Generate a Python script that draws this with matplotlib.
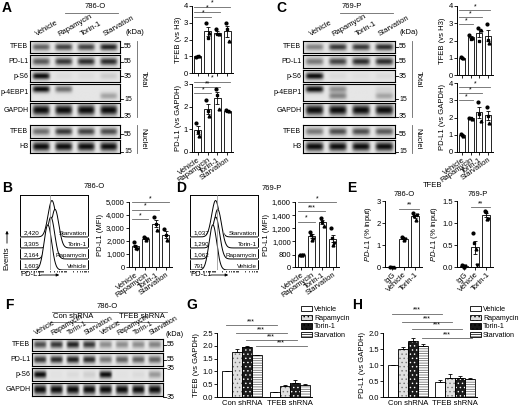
import numpy as np
import matplotlib
matplotlib.use("Agg")
import matplotlib.pyplot as plt
from matplotlib.patches import Patch
from matplotlib.ticker import FuncFormatter

plt.rcParams["font.family"] = ["Liberation Sans", "DejaVu Sans"]
plt.rcParams["font.size"] = 5.5
plt.rcParams["mathtext.fontset"] = "custom"
plt.rcParams["mathtext.it"] = "Liberation Sans:italic"
plt.rcParams["mathtext.rm"] = "Liberation Sans"
plt.rcParams["hatch.linewidth"] = 0.5

W, H = 520, 408

# ---------------- data ----------------
treatments = ["Vehicle", "Rapamycin", "Torin-1", "Starvation"]

# western blots (relative band intensity per lane)
ac_rows = ["TFEB", "PD-L1", "p-S6", "p-4EBP1", "GAPDH", "TFEB", "H3"]
ac_kda = ["55", "55", "35", "15", "35", "55", "15"]
a_bands = [[0.6, 0.75, 0.75, 0.9], [0.65, 0.8, 0.85, 0.85], [1.0, 0.04, 0.04, 0.12],
           [1.0, 0.55, 0.0, 0.0], [1, 1, 1, 1], [0.55, 0.8, 0.75, 0.7], [1, 1, 1, 1]]
a_4ebp1_low = [0.0, 0.0, 0.0, 0.3]
c_bands = [[0.45, 0.8, 0.8, 0.85], [0.5, 0.75, 0.85, 0.85], [1.0, 0.05, 0.03, 0.05],
           [1.0, 0.4, 0.0, 0.08], [1, 1, 1, 1], [0.5, 0.7, 0.7, 0.65], [1, 1, 1, 1]]
c_4ebp1_low = [0.0, 0.45, 0.0, 0.3]

f_lanes = treatments * 2
f_rows = ["TFEB", "PD-L1", "p-S6", "GAPDH"]
f_kda = ["55", "55", "35", "35"]
f_bands = [[0.7, 0.8, 0.9, 0.8, 0.4, 0.4, 0.4, 0.45],
           [0.8, 0.85, 0.9, 0.85, 0.5, 0.6, 0.6, 0.6],
           [1.0, 0.02, 0.05, 0.1, 1.0, 0.02, 0.05, 0.35],
           [1, 1, 1, 1, 1, 1, 1, 1]]

# quantification, individual replicates
a_tfeb = [[0.95, 1.0, 1.04], [3.0, 2.1, 2.4], [2.6, 2.3, 2.3], [3.0, 2.6, 1.9]]
a_pdl1 = [[1.3, 0.9, 0.72], [2.3, 1.8, 1.6], [2.8, 2.5, 1.9], [1.85, 1.8, 1.8]]
c_tfeb = [[1.02, 1.0, 0.98], [2.3, 2.1, 2.15], [2.75, 1.95, 2.6], [2.95, 2.05, 1.85]]
c_pdl1 = [[1.05, 1.0, 0.95], [1.95, 2.0, 1.9], [2.9, 2.2, 1.8], [2.6, 2.1, 1.7]]
a_tfeb_sig = [(0, 1, 3.35, "*"), (0, 2, 3.65, "*"), (0, 3, 3.95, "*")]
a_pdl1_sig = [(0, 1, 2.6, "*"), (0, 2, 2.85, "**"), (0, 3, 3.1, "*")]
c_tfeb_sig = [(0, 1, 2.95, "*"), (0, 2, 3.35, "*"), (0, 3, 3.75, "*")]
c_pdl1_sig = [(0, 1, 3.0, "*"), (0, 2, 3.4, "*"), (0, 3, 3.75, "*")]

# flow cytometry MFI
b_mfi = [1603, 2164, 3305, 2420]
d_mfi = [791, 1062, 1290, 1037]
peak_heights = [4.1, 3.8, 3.5, 3.3]
b_pts = [[1900, 1650, 1500, 1400], [2300, 2200, 2050, 2150], [3850, 3300, 2850], [2900, 2500, 2100]]
d_pts = [[800, 780, 790, 770], [1150, 1100, 1020, 1040], [1350, 1300, 1230], [1200, 1050, 950, 980]]
b_sig = [(0, 1, 3700, "*"), (0, 2, 4400, "*"), (0, 3, 5000, "*")]
d_sig = [(0, 1, 1300, "*"), (0, 2, 1460, "***"), (0, 3, 1600, "*")]

# ChIP
chip_groups = ["IgG", "Vehicle", "Torin-1"]
e786 = [[0.0, 0.0, 0.0], [1.35, 1.3, 1.25, 1.28], [2.45, 2.3, 2.15, 2.35]]
e769 = [[0.05, 0.02, 0.0, 0.03], [0.78, 0.55, 0.4, 0.05], [1.28, 1.25, 1.1, 1.08]]
e786_sig = [(1, 2, 2.65, "**")]
e769_sig = [(1, 2, 1.36, "**")]

# shRNA quantification
sh_groups = ["Con shRNA", "TFEB shRNA"]
g_con = [1.0, 1.75, 1.97, 1.63]
g_con_err = [0.03, 0.12, 0.03, 0.03]
g_kd = [0.18, 0.42, 0.55, 0.47]
g_kd_err = [0.02, 0.05, 0.1, 0.04]
g_sig = [2.81, 2.5, 2.23, 1.99]
h_con = [1.0, 1.5, 1.75, 1.6]
h_con_err = [0.01, 0.05, 0.1, 0.06]
h_kd = [0.47, 0.58, 0.6, 0.55]
h_kd_err = [0.05, 0.13, 0.07, 0.03]
h_sig = [2.6, 2.34, 2.13, 1.84]

# ---------------- helpers ----------------
fig = plt.figure(figsize=(W / 100, H / 100), dpi=100)


def px_axes(x0, y0, x1, y1):
    return fig.add_axes([x0 / W, 1 - y1 / H, (x1 - x0) / W, (y1 - y0) / H])


def px_text(x, y, s, **kw):
    fig.text(x / W, 1 - y / H, s, **kw)


def px_line(xs, ys, **kw):
    fig.add_artist(plt.Line2D([x / W for x in xs], [1 - y / H for y in ys], **kw))


def band_image(layers, n):
    nx, ny = n * 24, 30
    u = (np.arange(nx) + 0.5) / nx * n
    v = (np.arange(ny) + 0.5) / ny
    lane = np.floor(u).astype(int)
    du = u - lane - 0.5
    img = np.zeros((ny, nx))
    for centre, width, levels in layers:
        col = np.asarray(levels, float)[lane] * np.exp(-(np.abs(du) / 0.38) ** 6)
        row = np.exp(-0.5 * ((v - centre) / width) ** 2)
        img += row[:, None] * col[None, :]
    return 0.9 - 0.85 * np.clip(img, 0, 1)


def draw_blot(x0, x1, rows_y, names, layer_list, kda, kda_frac, n):
    for (y0, y1), name, layers, mk, fr in zip(rows_y, names, layer_list, kda, kda_frac):
        ax = px_axes(x0, y0, x1, y1)
        ax.imshow(band_image(layers, n), cmap="gray", vmin=0, vmax=1,
                  extent=(0, n, 1, 0), aspect="auto", interpolation="bilinear")
        ax.set_xticks([])
        ax.set_yticks([])
        for s in ax.spines.values():
            s.set_linewidth(0.8)
        px_text(x0 - 1.5, (y0 + y1) / 2, name, ha="right", va="center", fontsize=5.0)
        ym = y0 + fr * (y1 - y0)
        px_line([x1, x1 + 3], [ym, ym], color="k", lw=0.6)
        px_text(x1 + 4, ym, mk, ha="left", va="center", fontsize=5)


def lane_labels(x0, x1, y, labels, rot=30, size=5.5):
    n = len(labels)
    step = (x1 - x0) / n
    for i, lab in enumerate(labels):
        px_text(x0 + step * (i + 0.5) - 3, y, lab, rotation=rot, ha="left", va="bottom",
                rotation_mode="anchor", fontsize=size)


def style(ax):
    for s in ["top", "right"]:
        ax.spines[s].set_visible(False)
    for s in ["left", "bottom"]:
        ax.spines[s].set_linewidth(0.7)
    ax.tick_params(length=2, width=0.6, pad=1, labelsize=5.5)


marks = ["o", "s", "^", "v", "D"]


def bar_panel(ax, pts, ylim, yticks, ylabel, sig, xlabels=None, rot=35):
    means = [np.mean(p) for p in pts]
    sems = [np.std(p, ddof=1) / np.sqrt(len(p)) for p in pts]
    x = np.arange(len(pts))
    ax.bar(x, means, width=0.7, color="white", edgecolor="black", linewidth=0.6, zorder=1)
    ax.errorbar(x, means, yerr=sems, fmt="none", ecolor="black", elinewidth=0.6,
                capsize=1.5, capthick=0.6, zorder=2)
    for i, p in enumerate(pts):
        offs = np.linspace(-0.15, 0.15, len(p))
        for j, val in enumerate(p):
            ax.plot(i + offs[j], val, marker=marks[j % len(marks)], ms=2.0, color="black",
                    ls="none", zorder=3, clip_on=False)
    for i, j, h, star in sig:
        ax.plot([i - 0.35, j + 0.3], [h, h], color="0.4", lw=0.6, clip_on=False)
        ax.text((i + j) / 2, h, star, ha="center", va="bottom", fontsize=5)
    ax.set_xlim(-0.6, len(pts) - 0.4)
    ax.set_ylim(*ylim)
    ax.set_yticks(yticks)
    ax.set_xticks(x)
    if xlabels is None:
        ax.set_xticklabels([])
    else:
        ax.set_xticklabels(xlabels, rotation=rot, ha="right", rotation_mode="anchor")
    ax.set_ylabel(ylabel, labelpad=1.5, fontsize=5.5)
    style(ax)


def ridge(ax, mfi, names, gate, xlo, xhi):
    ax.set_xscale("log")
    ax.set_xlim(10 ** xlo, 10 ** xhi)
    ax.set_ylim(0, 6.8)
    xs = np.logspace(xlo, xhi, 400)
    n = len(mfi)
    for k in range(n):
        base = float(k)
        y = base + peak_heights[k] * np.exp(-0.5 * ((np.log10(xs) - np.log10(mfi[k])) / 0.17) ** 2)
        z = 10 + 2 * (n - k)
        ax.fill_between(xs, base, y, color="white", zorder=z)
        ax.plot(xs, y, color="black", lw=0.7, zorder=z + 1)
        tr = ax.get_yaxis_transform()
        ax.text(0.05, base + 0.12, f"{mfi[k]:,}", transform=tr, fontsize=4.5, va="bottom",
                ha="left", zorder=40)
        ax.text(0.98, base + 0.12, names[k], transform=tr, fontsize=4.5, va="bottom",
                ha="right", zorder=40)
    ax.axvline(gate, color="0.55", lw=0.5, zorder=30)
    ax.set_yticks([])
    ax.tick_params(axis="x", which="both", direction="out", length=1.5, width=0.5,
                   labelbottom=False)
    for s in ax.spines.values():
        s.set_linewidth(0.7)


comma = FuncFormatter(lambda v, p: f"{v:,.0f}")

# ---------------- panel letters ----------------
for lab, x, y in [("A", 2, 1), ("C", 276, 1), ("B", 2, 181), ("D", 176, 181),
                  ("E", 347, 181), ("F", 5, 298), ("G", 186, 298), ("H", 352, 298)]:
    px_text(x, y, lab, fontsize=10, fontweight="bold", va="top", ha="left")

# ---------------- A / C blots ----------------
rows_y = [(41, 53), (55, 68), (70, 82), (84, 101), (103, 117), (125, 138), (140, 153)]
kda_frac = [0.5, 0.5, 0.5, 0.9, 1.0, 0.7, 0.9]
for x0, x1, bands, low, cell, hx, bx in [(30, 120, a_bands, a_4ebp1_low, "786-O", 95, (65, 118)),
                                         (303, 395, c_bands, c_4ebp1_low, "769-P", 352, (340, 393))]:
    layers = [[(0.5, 0.2, b)] for b in bands]
    layers[3] = [(0.3, 0.14, bands[3]), (0.7, 0.14, low)]
    layers[4] = [(0.5, 0.26, bands[4])]
    layers[6] = [(0.5, 0.24, bands[6])]
    draw_blot(x0, x1, rows_y, ac_rows, layers, ac_kda, kda_frac, 4)
    lane_labels(x0, x1, 38, treatments)
    px_text(hx, 7, cell, ha="center", va="center", fontsize=5.5)
    px_line(list(bx), [13, 13], color="0.4", lw=0.6)
    px_text(x1 + 5, 33, "(kDa)", ha="left", va="center", fontsize=5.5)
    bx_x = x1 + 17
    px_line([bx_x, bx_x], [41, 117], color="0.4", lw=0.6)
    px_line([bx_x, bx_x], [125, 153], color="0.4", lw=0.6)
    px_text(bx_x + 6, 79, "Total", rotation=270, ha="center", va="center", fontsize=5.5)
    px_text(bx_x + 6, 139, "Nuclei", rotation=270, ha="center", va="center", fontsize=5.5)

ax = px_axes(192, 6, 233, 73)
bar_panel(ax, a_tfeb, (0, 4), [0, 1, 2, 3, 4], "TFEB (vs H3)", a_tfeb_sig)
ax = px_axes(192, 84, 233, 152)
bar_panel(ax, a_pdl1, (0, 3), [0, 1, 2, 3], "PD-L1 (vs GAPDH)", a_pdl1_sig, treatments)
ax = px_axes(457, 6, 493, 75)
bar_panel(ax, c_tfeb, (0, 4), [0, 1, 2, 3, 4], "TFEB (vs H3)", c_tfeb_sig)
ax = px_axes(457, 83, 493, 152)
bar_panel(ax, c_pdl1, (0, 4), [0, 1, 2, 3, 4], "PD-L1 (vs GAPDH)", c_pdl1_sig, treatments)

# ---------------- B / D flow ----------------
ax = px_axes(20, 195, 88, 270)
ridge(ax, b_mfi, treatments, 2000, 1.975, 4.975)
ax = px_axes(190, 195, 258, 270)
ridge(ax, d_mfi, treatments, 1225, 1.888, 4.888)
px_text(94, 187, "786-O", ha="center", va="center", fontsize=5.5)
px_text(272, 189, "769-P", ha="center", va="center", fontsize=5.5)
px_text(7, 258, "Events", rotation=90, ha="center", va="center", fontsize=5.5)
for x0, y0, x1, y1 in [(7, 246, 7, 228), (38, 275, 62, 275), (208, 275, 231, 275)]:
    fig.add_artist(matplotlib.patches.FancyArrowPatch(
        (x0 / W, 1 - y0 / H), (x1 / W, 1 - y1 / H), transform=fig.transFigure,
        arrowstyle="-|>", mutation_scale=4, lw=0.6, color="k"))
px_text(20, 275, "PD-L1", ha="left", va="center", fontsize=5.5)
px_text(190, 275, "PD-L1", ha="left", va="center", fontsize=5.5)

ax = px_axes(129, 202, 172, 267)
bar_panel(ax, b_pts, (0, 5000), [0, 1000, 2000, 3000, 4000, 5000], "PD-L1 (MFI)", b_sig,
          treatments)
ax.yaxis.set_major_formatter(comma)

ax = px_axes(295, 202, 339, 267)
ax.set_yscale("function", functions=(
    lambda v: np.where(v < 800, v * 188 / 800, v - 612),
    lambda u: np.where(u < 188, u * 800 / 188, u + 612)))
bar_panel(ax, d_pts, (0, 1600), [0, 800, 1000, 1200, 1400, 1600], "PD-L1 (MFI)", d_sig,
          treatments)
ax.yaxis.set_major_formatter(comma)
ax.yaxis.set_minor_locator(matplotlib.ticker.NullLocator())

# ---------------- E ChIP ----------------
px_text(433, 186, "TFEB", ha="center", va="center", fontsize=5.5)
px_text(404, 194, "786-O", ha="center", va="center", fontsize=5.5)
px_text(478, 194, "769-P", ha="center", va="center", fontsize=5.5)
chip_label = r"$\mathit{PD}$-$\mathit{L1}$ (% input)"
ax = px_axes(385, 201, 422, 267)
bar_panel(ax, e786, (0, 3), [0, 1, 2, 3], chip_label, e786_sig, chip_groups, rot=45)
ax = px_axes(457, 201, 493, 267)
bar_panel(ax, e769, (0, 1.5), [0, 0.5, 1.0, 1.5], chip_label, e769_sig, chip_groups, rot=45)
ax.yaxis.set_major_formatter(FuncFormatter(lambda v, p: f"{v:.1f}"))

# ---------------- F blot ----------------
f_rows_y = [(339, 351), (353, 366), (368, 381), (383, 396)]
f_layers = [[(0.5, 0.2, b)] for b in f_bands]
f_layers[3] = [(0.5, 0.26, f_bands[3])]
draw_blot(32, 163, f_rows_y, f_rows, f_layers, f_kda, [0.5, 0.5, 0.0, 1.1], 8)
lane_labels(32, 163, 337, f_lanes, size=5)
px_text(107, 307, "786-O", ha="center", va="center", fontsize=5.5)
px_line([52, 167], [312, 312], color="0.4", lw=0.6)
px_text(73, 317, "Con shRNA", ha="center", va="center", fontsize=5.5)
px_line([50, 97], [322, 322], color="0.4", lw=0.6)
px_text(142, 317, "TFEB shRNA", ha="center", va="center", fontsize=5.5)
px_line([115, 167], [322, 322], color="0.4", lw=0.6)
px_text(165, 334, "(kDa)", ha="left", va="center", fontsize=5.3)

# ---------------- G / H grouped bars ----------------
styles = [dict(facecolor="white", hatch=None, edgecolor="black"),
          dict(facecolor="0.88", hatch="....", edgecolor="0.45"),
          dict(facecolor="0.1", hatch="....", edgecolor="white"),
          dict(facecolor="white", hatch="-------", edgecolor="0.35")]
gap = 4.7


def group_panel(ax, con, con_e, kd, kd_e, ylim, yticks, ylabel, sig_h):
    for k in range(4):
        xs = [k, gap + k]
        vals = [con[k], kd[k]]
        ax.bar(xs, vals, width=1.0, linewidth=0, zorder=1, **styles[k])
        ax.bar(xs, vals, width=1.0, fill=False, edgecolor="black", linewidth=0.6, zorder=2)
        ax.errorbar(xs, vals, yerr=[[0, 0], [con_e[k], kd_e[k]]], fmt="none", ecolor="black",
                    elinewidth=0.6, capsize=1.5, capthick=0.6, zorder=3)
        ax.plot([k - 0.1, gap + k + 0.2], [sig_h[k], sig_h[k]], color="0.4", lw=0.6, clip_on=False)
        ax.text((2 * k + gap) / 2, sig_h[k], "***", ha="center", va="bottom", fontsize=5)
    ax.set_xlim(-1.0, gap + 3.7)
    ax.set_ylim(*ylim)
    ax.set_yticks(yticks)
    ax.yaxis.set_major_formatter(FuncFormatter(lambda v, p: f"{v:.1f}"))
    ax.set_xticks([1.5, gap + 1.5])
    ax.set_xticklabels(sh_groups)
    ax.set_ylabel(ylabel, labelpad=1.5, fontsize=5.5)
    style(ax)
    ax.tick_params(axis="x", length=0, pad=2)


ax_g = px_axes(217, 333, 312, 397)
group_panel(ax_g, g_con, g_con_err, g_kd, g_kd_err, (0, 2.5), [0, 0.5, 1.0, 1.5, 2.0, 2.5],
            "TFEB (vs GAPDH)", g_sig)
ax_h = px_axes(383, 333, 477, 397)
group_panel(ax_h, h_con, h_con_err, h_kd, h_kd_err, (0, 2.0), [0, 0.5, 1.0, 1.5, 2.0],
            "PD-L1 (vs GAPDH)", h_sig)

handles = [Patch(facecolor=s["facecolor"], hatch=s["hatch"], edgecolor=s["edgecolor"],
                 linewidth=0.6) for s in styles]
for ax, lx in [(ax_g, 301), (ax_h, 470)]:
    leg = ax.legend(handles, treatments, loc="upper left", bbox_to_anchor=(lx / W, 1 - 306 / H),
                    bbox_transform=fig.transFigure, frameon=False, fontsize=5.1,
                    handlelength=1.5, handleheight=0.8, handletextpad=0.35, labelspacing=0.2,
                    borderpad=0, borderaxespad=0)
    for p in leg.get_patches():
        p.set_edgecolor("black")

fig.savefig("out.png", dpi=100)
